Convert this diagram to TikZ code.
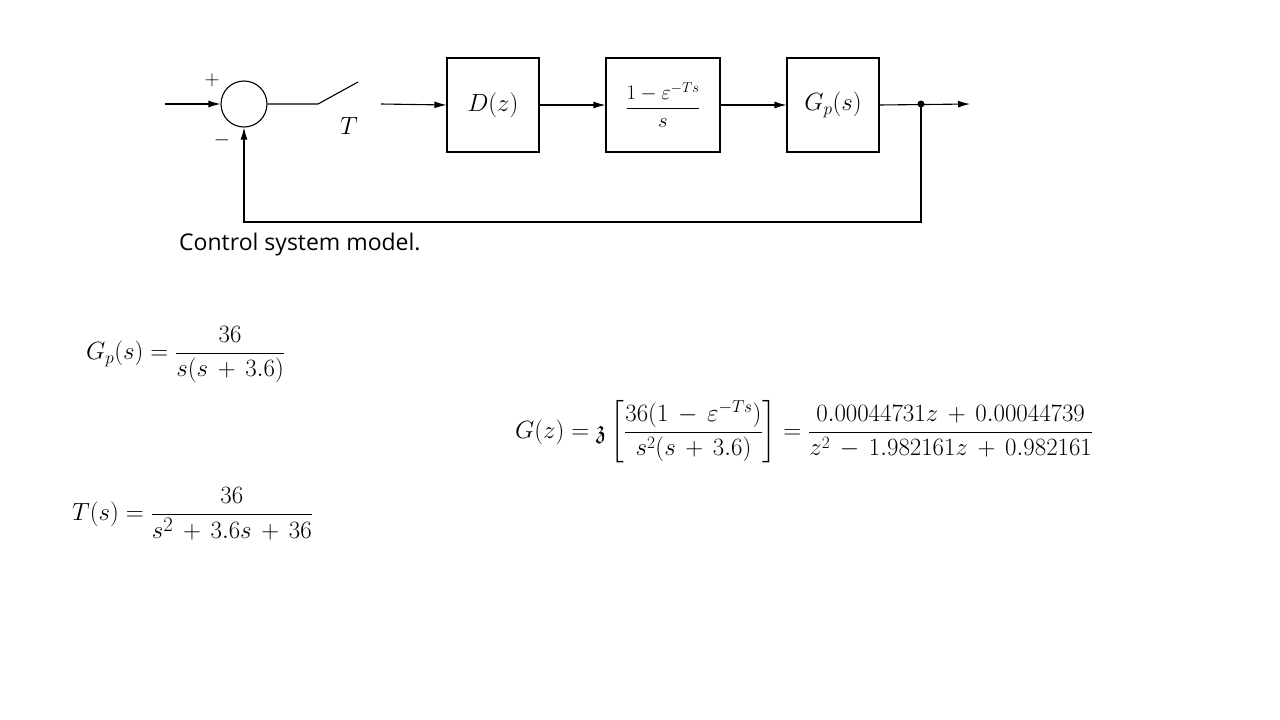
\documentclass[tikz,border=0pt]{standalone}
\usepackage{amsmath,amssymb}
\usepackage{fontspec}
\newfontfamily\capfont{Open Sans}
\usetikzlibrary{arrows.meta}
\begin{document}
\begin{tikzpicture}[x=1pt,y=-1pt,
  blk/.style={draw,line width=1.1pt,minimum width=92pt,minimum height=94pt,inner sep=0pt,font=\fontsize{23}{27}\selectfont},
  sig/.style={line width=1.1pt,-{Latex[length=12pt,width=7pt]}},
  ln/.style={line width=1.1pt},
  eq/.style={anchor=west,inner sep=0pt,font=\fontsize{27}{32}\selectfont}]
\useasboundingbox (0,0) rectangle (1280,720);
\node[draw,circle,minimum size=46pt,inner sep=0pt,line width=1.1pt] (sum) at (244,104) {};
\coordinate (in) at (165,104);
\draw[sig] (in) -- (sum.west);
\node[font=\fontsize{20}{24}\selectfont] (plus) at (212,80) {$+$};
\node[font=\fontsize{20}{24}\selectfont] (minus) at (222,140) {$-$};
\coordinate (sw1) at (318,104);
\coordinate (sw2) at (358,82);
\draw[ln] (sum.east) -- (sw1) -- (sw2);
\node[font=\fontsize{23}{27}\selectfont] (T) at (349,126) {$T$};
\coordinate (sw3) at (381,104);
\node[blk] (D) at (493,105) {$D(z)$};
\node[blk,minimum width=114pt,font=\fontsize{21}{25}\selectfont] (H) at (663,105) {$\dfrac{1-\varepsilon^{-Ts}}{s}$};
\node[blk] (G) at (833,105) {$G_p(s)$};
\draw[sig] (sw3) -- (D.west);
\draw[sig] (D.east) -- (H.west);
\draw[sig] (H.east) -- (G.west);
\coordinate (tap) at (921,104);
\coordinate (out) at (970,104);
\draw[sig] (G.east) -- (out);
\fill (tap) circle (3.5pt);
\coordinate (fb1) at (921,222);
\coordinate (fb2) at (244,222);
\draw[sig] (tap) -- (fb1) -- (fb2) -- (sum.south);
\node[anchor=west,inner sep=0pt,font=\capfont\fontsize{23}{27}\selectfont] (cap) at (179,245) {Control system model.};
\node[eq] (gp) at (86,355) {$G_p(s) = \dfrac{36}{s(s\,+\,3.6)}$};
\node[eq,font=\fontsize{26}{31}\selectfont] (gz) at (515,432) {$G(z) = \mathfrak{z}\left[\dfrac{36(1\,-\,\varepsilon^{-Ts})}{s^2(s\,+\,3.6)}\right] = \dfrac{0.00044731z\,+\,0.00044739}{z^2\,-\,1.982161z\,+\,0.982161}$};
\node[eq,font=\fontsize{29.5}{35}\selectfont] (ts) at (72,514) {$T(s) = \dfrac{36}{s^2\,+\,3.6s\,+\,36}$};
\end{tikzpicture}
\end{document}
